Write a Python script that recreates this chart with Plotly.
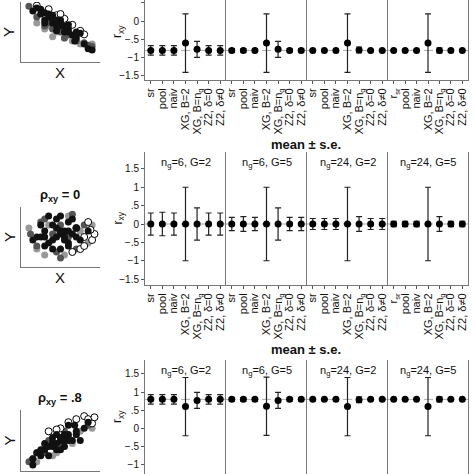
import plotly.graph_objects as go

W = 474
methods = ["sr", "pool", "naiv", "XG, B=2", "XG, B=n<sub>g</sub>", "Z2, δ=0", "Z2, δ≠0"]
methods_last = ["r<sub>sr</sub>"] + methods[1:]
panel_titles = ["n<sub>g</sub>=6, G=2", "n<sub>g</sub>=6, G=5", "n<sub>g</sub>=24, G=2", "n<sub>g</sub>=24, G=5"]

# true correlation per row
rho = [-0.8, 0.0, 0.8]

# means per row / panel
means_neg = [
    [-0.8, -0.8, -0.8, -0.6, -0.77, -0.8, -0.8],
    [-0.8, -0.8, -0.8, -0.6, -0.77, -0.8, -0.8],
    [-0.8, -0.8, -0.8, -0.6, -0.79, -0.8, -0.8],
    [-0.8, -0.8, -0.8, -0.6, -0.8, -0.8, -0.8],
]
means_zero = [[0, 0, 0, 0, 0, 0, 0]] * 4
means_pos = [
    [0.8, 0.8, 0.8, 0.6, 0.77, 0.8, 0.8],
    [0.8, 0.8, 0.8, 0.61, 0.77, 0.8, 0.8],
    [0.8, 0.8, 0.8, 0.6, 0.79, 0.8, 0.8],
    [0.8, 0.8, 0.8, 0.6, 0.8, 0.8, 0.8],
]
se_neg = [
    [0.13, 0.13, 0.13, 0.8, 0.22, 0.13, 0.13],
    [0.05, 0.05, 0.05, 0.8, 0.22, 0.05, 0.05],
    [0.02, 0.02, 0.02, 0.8, 0.08, 0.02, 0.02],
    [0.01, 0.01, 0.01, 0.8, 0.07, 0.01, 0.01],
]
se_zero = [
    [0.3, 0.32, 0.3, 1.0, 0.44, 0.3, 0.3],
    [0.18, 0.2, 0.18, 1.0, 0.44, 0.18, 0.18],
    [0.15, 0.15, 0.15, 1.0, 0.2, 0.15, 0.15],
    [0.07, 0.07, 0.07, 1.0, 0.2, 0.07, 0.07],
]
se_pos = [
    [0.13, 0.13, 0.13, 0.8, 0.22, 0.13, 0.13],
    [0.05, 0.05, 0.05, 0.8, 0.22, 0.05, 0.05],
    [0.02, 0.02, 0.02, 0.8, 0.08, 0.02, 0.02],
    [0.01, 0.01, 0.01, 0.8, 0.07, 0.01, 0.01],
]
means = [means_neg, means_zero, means_pos]
ses = [se_neg, se_zero, se_pos]

yticks = [[0.5, 0, -0.5, -1, -1.5], [1.5, 1, 0.5, 0, -0.5, -1, -1.5], [1.5, 1, 0.5, 0, -0.5, -1]]
ytext = {1.5: "1.5", 1: "1", 0.5: ".5", 0: "0", -0.5: "−.5", -1: "−1", -1.5: "−1.5"}

# thumbnail scatter points: (x, y) by group colour
neg_pts = {
    "#999": ([2, 3, 4.5, 5.5, 6.5, 7.5, 8.5, 9, 4, 3.5, 6], [6.5, 5.5, 5, 4, 3.5, 3, 2.5, 3, 4.2, 6, 5]),
    "#555": ([1, 2, 3, 4, 5, 6, 7, 8.5, 3.5, 5.5, 8, 9], [9.3, 7.5, 6, 5.5, 5, 4.5, 3.5, 2.8, 6.5, 4, 3.2, 2.6]),
    "open": ([2, 3.5, 4.5, 5.5, 6.5, 7.5, 8, 5], [9.4, 8.8, 7.8, 7.2, 6.2, 5.2, 4.6, 8]),
    "#111": ([1.5, 2.5, 3, 3.5, 4, 4.5, 5, 5.5, 6, 6.5, 7, 8, 3, 4, 5, 6, 7.5, 2, 4.5, 5.5, 8.5, 6.8,
              2.5, 3.5, 4, 5, 6, 7, 4.5, 9, 3],
             [8.5, 8, 7, 7.5, 6.5, 6, 6.5, 5, 5.5, 4.5, 4, 3, 8.2, 7.8, 7, 6.2, 4.8, 9, 5.2, 6, 2.2, 3.5,
              8.8, 8, 7.2, 6, 5, 5, 7, 2, 6.5]),
}
zero_pts = {
    "#999": ([1, 2, 3, 4.5, 6, 7.5, 8.5, 9, 5.5, 3.5], [6.5, 3, 2, 6, 8.5, 6, 4, 7, 2, 7]),
    "#555": ([1.2, 2, 3, 4, 5, 6, 7, 8, 5, 4.5, 2.5, 6.5], [5.5, 3.5, 8, 5.5, 7, 5, 3, 7, 1.5, 2.5, 7.5, 8.8]),
    "open": ([7, 8, 8.5, 9, 9.3, 7.5, 8, 6.5, 8.8], [6.5, 5, 7.5, 4.5, 5.5, 3, 3.5, 2.5, 6.2]),
    "#111": ([2, 3, 3.5, 4, 4.5, 5, 5.5, 6, 6.5, 7, 3, 4, 5, 6, 7.5, 2.5, 4.5, 5.5, 8.5, 6.5, 5, 3.5,
              1.5, 2.5, 3, 4, 5, 6, 7, 5.5, 4.5, 6],
             [5, 6, 4, 7, 5, 6, 4.5, 7.5, 5.5, 6.5, 3.5, 3, 8.5, 3.5, 4.5, 7, 8, 6, 6, 8, 3, 8.5,
              4.5, 5, 5, 4.5, 5.5, 6, 5, 5, 6.5, 4]),
}
pos_pts = {
    "#999": ([2, 3, 4.5, 5.5, 6.5, 7.5, 8.5, 9, 4, 6], [1.5, 4, 3, 5, 4.5, 6.5, 8, 7, 2.5, 5.5]),
    "#555": ([1, 2, 3, 4, 5, 6, 7, 8.5, 3.5, 5.5, 1.5], [1.5, 3, 3, 4.5, 4.5, 5.5, 6, 7.5, 5, 6.5, 2]),
    "open": ([3.5, 5, 6, 7, 8, 8.5, 9, 9.3, 4.5], [6.5, 7, 8, 8.5, 9, 8.5, 7.8, 8.8, 6.8]),
    "#111": ([1.5, 2.5, 3, 3.5, 4, 4.5, 5, 5.5, 6, 6.5, 7, 8, 3, 4, 5, 6, 7.5, 2, 4.5, 5.5, 8.5, 6.8,
              2.5, 3.5, 4, 5, 6, 7, 5.5, 1.5, 4.5],
             [2, 2.5, 3.5, 2.5, 4, 3.5, 5, 4, 6, 5, 6.5, 7, 4.5, 5.5, 3.5, 7.5, 5, 3, 6, 6, 8, 7.5,
              3.5, 4, 4.8, 5.5, 5, 6, 5, 1, 4.5]),
}
thumb_pts = [neg_pts, zero_pts, pos_pts]
thumb_titles = [None, "<b>ρ<sub>xy</sub> = 0</b>", "<b>ρ<sub>xy</sub> = .8</b>"]

# pixel layout (top, bottom) of each row of panels and y ranges
row_px = [(0, 80), (152, 285), (360, 474)]
row_range = [(-1.61, 0.58), (-1.66, 1.96), (-1.25, 1.88)]
panel_px = [(145, 226), (226, 307), (307, 388), (388, 468)]
thumb_px = [(2, 62), (207, 267), (410, 471)]
mean_se_y = [None, 145, 349]


def fx(px):
    return px / W


def fy(px):
    return 1 - px / W


def ids(n):
    s = "" if n == 1 else str(n)
    return "x" + s, "y" + s, "xaxis" + s, "yaxis" + s


def note(text, x, y, size, **kw):
    return dict(text=text, xref="paper", yref="paper", x=fx(x), y=fy(y), xanchor="center",
                yanchor=kw.pop("yanchor", "middle"), showarrow=False, font=dict(size=size), **kw)


FONT = "Liberation Sans, Arial, sans-serif"
fig = go.Figure()
layout = dict(width=W, height=W, margin=dict(l=0, r=0, t=0, b=0),
              paper_bgcolor="white", plot_bgcolor="white", showlegend=False,
              font=dict(family=FONT, color="#111", size=11))
shapes, annotations = [], []
n = 0
for r in range(3):
    for p in range(4):
        n += 1
        xa, ya, xk, yk = ids(n)
        fig.add_trace(go.Scatter(
            x=list(range(7)), y=means[r][p], xaxis=xa, yaxis=ya, mode="markers",
            marker=dict(color="black", size=7),
            error_y=dict(type="data", array=ses[r][p], color="#222", thickness=1.2, width=3)))
        shapes.append(dict(type="line", xref=f"{xa} domain", yref=ya, x0=0, x1=1,
                           y0=rho[r], y1=rho[r], line=dict(color="#aaa", width=1, dash="dash"),
                           layer="below"))
        t, b = row_px[r]
        ax = dict(domain=[fx(panel_px[p][0]), fx(panel_px[p][1])], range=[-0.5, 6.5],
                  tickvals=list(range(7)), ticktext=methods_last if p == 3 else methods,
                  tickangle=-90, ticks="outside", ticklen=3, tickcolor="#555",
                  showticklabels=(r < 2),
                  showline=True, linecolor="#777", showgrid=False, zeroline=False,
                  anchor=ya, tickfont=dict(size=11), automargin=False)
        ay = dict(domain=[fy(b), fy(t)], range=list(row_range[r]), anchor=xa,
                  showgrid=False, zeroline=False, showline=True, linecolor="#777",
                  mirror=(p == 3), tickvals=yticks[r],
                  ticktext=[ytext[v] for v in yticks[r]] if p == 0 else [""] * len(yticks[r]),
                  ticks="outside" if p == 0 else "", ticklen=3, tickcolor="#555",
                  tickfont=dict(size=10), automargin=False)
        layout[xk] = ax
        layout[yk] = ay
        if r > 0:
            annotations.append(note(panel_titles[p], sum(panel_px[p]) / 2, t + 2, 11,
                                    yanchor="top"))
    annotations.append(note("r<sub>xy</sub>", 118, sum(row_px[r]) / 2 - (8 if r == 0 else 0),
                            12, textangle=-90))
    if mean_se_y[r]:
        annotations.append(note("<b>mean ± s.e.</b>", 306, mean_se_y[r], 13))

    # thumbnail scatter
    n += 1
    xa, ya, xk, yk = ids(n)
    for col, (xs, ys) in thumb_pts[r].items():
        if col == "open":
            mk = dict(color="white", size=7, line=dict(color="black", width=1))
        else:
            mk = dict(color=col, size=7, line=dict(width=0))
        fig.add_trace(go.Scatter(x=xs, y=ys, xaxis=xa, yaxis=ya, mode="markers", marker=mk))
    t, b = thumb_px[r]
    layout[xk] = dict(domain=[fx(21), fx(100)], range=[0, 10], anchor=ya,
                      showline=True, linecolor="#777", showticklabels=False,
                      showgrid=False, zeroline=False, automargin=False)
    layout[yk] = dict(domain=[fy(b), fy(t)], range=[0, 10], anchor=xa,
                      showline=True, linecolor="#777", showticklabels=False,
                      showgrid=False, zeroline=False, automargin=False)
    if b + 10 < W - 6:
        annotations.append(note("X", 60, b + 10, 15))
    annotations.append(note("Y", 9, (t + b) / 2, 15, textangle=-90))
    if thumb_titles[r]:
        annotations.append(note(thumb_titles[r], 60, t - 12, 13))

layout["shapes"] = shapes
layout["annotations"] = annotations
fig.update_layout(**layout)
fig.write_html("out.html", config={"displayModeBar": False},
               post_script="document.body.style.margin='0';")
